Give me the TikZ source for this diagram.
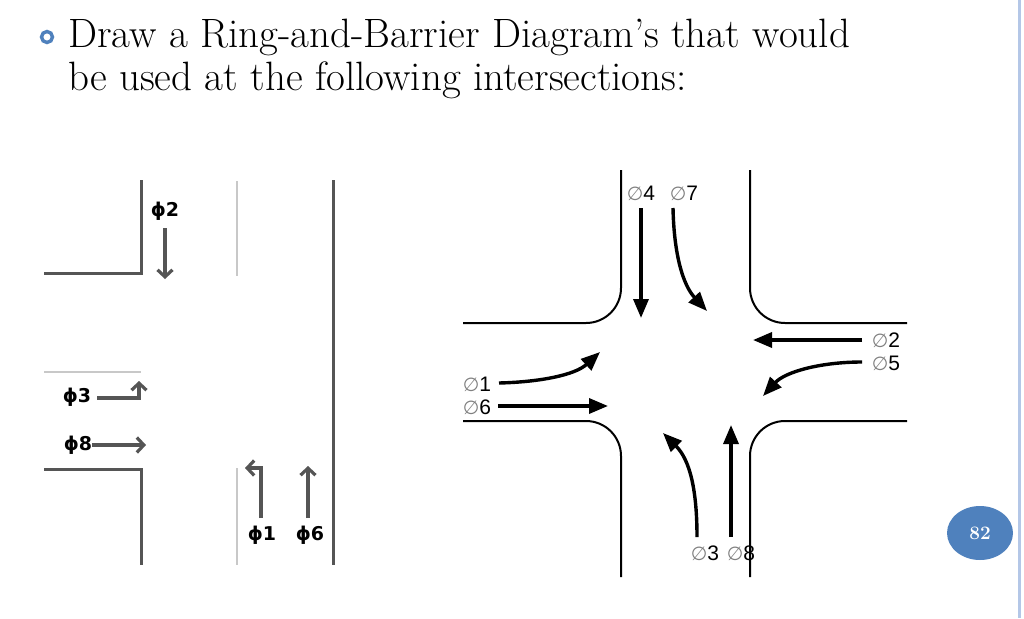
\documentclass[tikz,border=0pt]{standalone}
\usepackage{fontspec}
\usetikzlibrary{arrows.meta,shapes.geometric}
\newfontfamily\djv{DejaVu Sans}
\newfontfamily\lsans{Liberation Sans}
\definecolor{gr}{HTML}{555555}
\definecolor{lgr}{HTML}{C8C8C8}
\definecolor{blu}{HTML}{4F81BD}
\definecolor{lblu}{HTML}{B4C7E7}
\tikzset{
 road/.style={gr,line width=3pt},
 lroad/.style={lgr,line width=2pt},
 garr/.style={gr,line width=3.6pt,-{Straight Barb[length=7pt,width=15pt,line width=3.2pt]}},
 glab/.style={font=\djv\bfseries\fontsize{19}{19}\selectfont,text=black,inner sep=1pt},
 kroad/.style={black,line width=2pt,rounded corners=35pt},
 karr/.style={black,line width=3.4pt,-{Triangle[length=19pt,width=15pt]}},
 klab/.style={font=\lsans\fontsize{21}{21}\selectfont,inner sep=1pt},
}
\newcommand{\dia}{{\djv\color{gray}\fontsize{19}{19}\selectfont ∅}}
\begin{document}
\begin{tikzpicture}[x=1pt,y=-1pt]
\useasboundingbox (0,0) rectangle (1024,618);
\fill[white] (0,0) rectangle (1024,618);
% slide decorations
\draw[lblu,line width=3pt] (1019,0) -- (1019,618);
\node[ellipse,fill=blu,minimum width=66pt,minimum height=54pt,inner sep=0pt,text=white,font=\bfseries\fontsize{19}{19}\selectfont] (pg) at (980,533) {82};
\draw[blu,line width=3.4pt] (47,37) circle (5.5);
\node[anchor=base west,font=\fontsize{41}{42}\selectfont,inner sep=0pt,align=left] (t1) at (68,48) {Draw a Ring-and-Barrier Diagram’s that would};
\node[anchor=base west,font=\fontsize{41}{42}\selectfont,inner sep=0pt] (t2) at (68,90) {be used at the following intersections:};
% left diagram
\draw[road] (44,273) -- (141,273) -- (141,180);
\draw[lroad] (237,181) -- (237,276);
\draw[road] (333,180) -- (333,565);
\draw[lroad] (44,372) -- (141,372);
\draw[road] (44,469) -- (141,469) -- (141,565);
\draw[lroad] (237,468) -- (237,565);
\node[glab] (p2) at (165,211) {ϕ2};
\coordinate (p2a) at (165,228); \coordinate (p2b) at (165,279);
\draw[garr] (p2a) -- (p2b);
\node[glab] (p3) at (77,397) {ϕ3};
\coordinate (p3b) at (139,381);
\draw[garr] (97,398) -- (139,398) -- (p3b);
\node[glab] (p8) at (78,445) {ϕ8};
\coordinate (p8b) at (146,445);
\draw[garr] (92,445) -- (p8b);
\node[glab] (p1) at (262,535) {ϕ1};
\coordinate (p1b) at (245,468);
\draw[garr] (261,518) -- (261,468) -- (p1b);
\node[glab] (p6) at (310,535) {ϕ6};
\coordinate (p6b) at (308,466);
\draw[garr] (308,518) -- (p6b);
% right diagram
\draw[kroad] (621,170) -- (621,323) -- (463,323);
\draw[kroad] (750,170) -- (750,323) -- (907,323);
\draw[kroad] (463,421) -- (621,421) -- (621,577);
\draw[kroad] (907,421) -- (750,421) -- (750,577);
\node[klab] (d4) at (641,193) {\dia4};
\node[klab] (d7) at (684,193) {\dia7};
\node[klab] (d2) at (886,340) {\dia2};
\node[klab] (d5) at (886,363) {\dia5};
\node[klab] (d1) at (477,384) {\dia1};
\node[klab] (d6) at (477,407) {\dia6};
\node[klab] (d3) at (705,553) {\dia3};
\node[klab] (d8) at (741,553) {\dia8};
\coordinate (a4) at (641,318); \draw[karr] (641,208) -- (a4);
\coordinate (a7) at (707,311); \draw[karr] (673,208) .. controls (674,255) and (683,285) .. (a7);
\coordinate (a2) at (753,340); \draw[karr] (862,340) -- (a2);
\coordinate (a5) at (763,396); \draw[karr] (862,362) .. controls (820,362) and (785,372) .. (a5);
\coordinate (a1) at (600,352); \draw[karr] (499,383) .. controls (540,382) and (575,375) .. (a1);
\coordinate (a6) at (608,406); \draw[karr] (498,406) -- (a6);
\coordinate (a3) at (663,433); \draw[karr] (697,537) .. controls (697,490) and (690,460) .. (a3);
\coordinate (a8) at (731,425); \draw[karr] (731,537) -- (a8);
\end{tikzpicture}
\end{document}
